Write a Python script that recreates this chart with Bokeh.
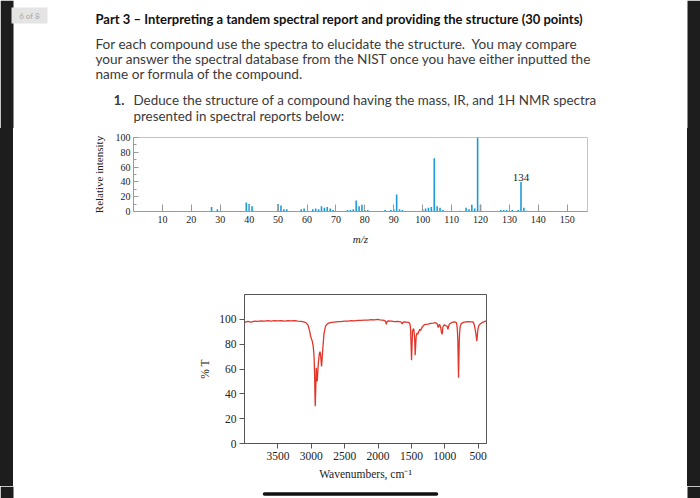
from bokeh.plotting import figure
from bokeh.layouts import row
from bokeh.models import Range1d, FixedTicker, Spacer
from bokeh.core.properties import value
from bokeh.embed import file_html
from bokeh.resources import INLINE

# ---------------- data ----------------
header_title = ["Part 3 \u2013 Interpreting a tandem spectral report and providing the structure (30 points)"]
body_lines = [
    "For each compound use the spectra to elucidate the structure.\u00a0 You may compare",
    "your answer the spectral database from the NIST once you have either inputted the",
    "name or formula of the compound.",
]
item_num = ["1."]
item_lines = [
    "Deduce the structure of a compound having the mass, IR, and 1H NMR spectra",
    "presented in spectral reports below:",
]
page_badge = ["6 of 8"]

ms_mz = [27, 29, 39, 40, 41, 50, 51, 52, 53, 58, 59, 62, 63, 64, 65, 66, 67, 68, 69,
         74, 75, 76, 77, 78, 79, 80, 81, 87, 89, 90, 91, 92, 93,
         100, 101, 102, 103, 104, 105, 106, 107, 113, 115, 116, 117, 118, 119, 120,
         127, 128, 129, 131, 133, 134, 135, 136]
ms_int = [6, 3, 12, 10, 7, 10, 8, 3, 3, 3, 4, 3, 4, 3, 7, 5, 6, 4, 2,
          2, 2, 3, 15, 7, 9, 2, 2, 2, 2, 3, 23, 3, 2,
          3, 4, 5, 6, 72, 7, 5, 2, 1, 5, 3, 9, 4, 100, 9,
          2, 2, 2, 2, 2, 40, 5, 1]
ms_xticks = [10, 20, 30, 40, 50, 60, 70, 80, 90, 100, 110, 120, 130, 140, 150]
ms_yticks = [0, 20, 40, 60, 80, 100]
ms_label_mz = [134]
ms_label_text = ["134"]

ir_wn = [4000, 3950, 3900, 3850, 3800, 3750, 3700, 3650, 3600, 3550, 3500, 3450, 3400, 3350,
         3300, 3250, 3200, 3150, 3100, 3070, 3050, 3036, 3020, 3010, 2995, 2985, 2970, 2958,
         2950, 2945, 2940, 2932, 2925, 2918, 2910, 2902, 2895, 2880, 2870, 2862, 2855, 2846,
         2838, 2830, 2810, 2786, 2760, 2736, 2700, 2650, 2600, 2560, 2500, 2450, 2400, 2350,
         2300, 2262, 2200, 2150, 2100, 2050, 2012, 1970, 1930, 1897, 1885, 1877, 1868, 1852,
         1800, 1750, 1700, 1663, 1650, 1638, 1625, 1613, 1580, 1538, 1520, 1513, 1505, 1498,
         1491, 1483, 1470, 1463, 1452, 1443, 1435, 1428, 1415, 1403, 1392, 1383, 1375, 1363,
         1350, 1338, 1310, 1288, 1250, 1213, 1175, 1138, 1115, 1098, 1088, 1078, 1060, 1048,
         1038, 1028, 1010, 988, 965, 953, 943, 933, 900, 863, 840, 823, 812, 804, 798, 794,
         789, 784, 779, 770, 754, 720, 689, 650, 620, 589, 570, 554, 540, 530, 520, 512,
         504, 490, 464, 440, 414, 390, 375]
ir_t = [97.5, 98.3, 97.8, 98.6, 98.4, 98.8, 98.5, 98.9, 98.6, 99.0, 98.7, 98.9, 98.6, 98.9,
        98.7, 98.9, 98.5, 98.3, 97.8, 96.8, 95.5, 93.0, 89.5, 86.5, 84.0, 82.5, 78.0, 70.0,
        56.0, 40.0, 30.0, 45.0, 61.0, 55.0, 50.0, 58.0, 64.0, 72.0, 74.0, 72.0, 68.0, 62.0,
        67.0, 74.5, 88.0, 94.5, 96.3, 97.0, 97.5, 97.8, 98.1, 98.2, 98.6, 98.5, 98.9, 98.8,
        99.1, 99.2, 99.4, 99.3, 99.7, 99.6, 100.0, 99.6, 99.4, 99.0, 98.0, 96.0, 97.8, 98.7,
        98.5, 98.2, 98.3, 98.0, 97.5, 96.3, 97.5, 98.0, 97.8, 97.5, 96.0, 93.0, 80.0, 67.0,
        78.0, 90.6, 92.5, 92.0, 85.0, 71.0, 80.0, 86.6, 89.0, 88.0, 90.0, 90.6, 92.0, 91.0,
        92.5, 93.8, 95.5, 96.0, 96.2, 96.8, 97.0, 97.3, 96.5, 93.3, 95.0, 96.0, 93.0, 89.0,
        88.0, 93.8, 95.5, 95.0, 94.5, 92.0, 94.0, 96.0, 97.3, 98.0, 97.8, 97.0, 92.0, 82.6,
        65.0, 53.0, 66.0, 80.0, 88.0, 94.0, 96.5, 97.5, 98.0, 98.2, 98.0, 98.0, 97.5, 94.6,
        90.5, 87.0, 82.5, 87.0, 92.0, 95.0, 96.5, 97.5, 98.0, 98.5, 98.6]
ir_xticks = [3500, 3000, 2500, 2000, 1500, 1000, 500]
ir_yticks = [0, 20, 40, 60, 80, 100]

# ---------------- styles ----------------
DARK = "#1d1d1d"
SERIF = "Liberation Serif"
SANS = "Lato"


def blank(width, height, x0, x1, y0, y1, bg="white"):
    p = figure(width=width, height=height, x_range=Range1d(x0, x1), y_range=Range1d(y1, y0),
               output_backend="svg", toolbar_location=None, min_border=0,
               x_axis_location=None, y_axis_location=None,
               background_fill_color=bg, border_fill_color=bg, outline_line_color=None)
    p.grid.visible = False
    return p


def strip(height):
    return Spacer(width=13, height=height, margin=0, styles={"background-color": DARK})


# ---- band 1: header (y 0-128) ----
hdr = blank(700, 128, 0, 700, 0, 128)
hdr.quad(left=[0, 687], right=[13, 700], top=[0, 0], bottom=[128, 128],
         fill_color=DARK, line_color=None)
hdr.quad(left=[11], right=[47], top=[7], bottom=[23], fill_color="#e4e4e4", line_color=None)
hdr.text(x=[29], y=[15.5], text=page_badge, text_font=value(SANS), text_font_size="8px",
         text_color="#a8a8a8", text_align="center", text_baseline="middle")
hdr.text(x=[95], y=[18.5], text=header_title, text_font=value(SANS), text_font_size="13px",
         text_font_style="bold", text_color="#111111", text_baseline="middle")
hdr.text(x=[95, 95, 95], y=[43, 58, 73], text=body_lines, text_font=value(SANS),
         text_font_size="13.6px", text_color="#3a3a3a", text_baseline="middle")
hdr.text(x=[113], y=[99.5], text=item_num, text_font=value(SANS), text_font_size="13.5px",
         text_font_style="bold", text_color="#3a3a3a", text_baseline="middle")
hdr.text(x=[133, 133], y=[99.5, 115], text=item_lines, text_font=value(SANS),
         text_font_size="13.4px", text_color="#3a3a3a", text_baseline="middle")

# ---- band 2: mass spectrum (y 128-250) ----
ms = figure(width=674, height=122, x_range=Range1d(0, 157), y_range=Range1d(0, 100),
            output_backend="svg", toolbar_location=None,
            min_border_left=120, min_border_right=100, min_border_top=9, min_border_bottom=39,
            outline_line_color="#c4c4c4", background_fill_color="white", border_fill_color="white")
ms.grid.visible = False
ms.vbar(x=ms_mz, top=ms_int, bottom=0, width=0.55, fill_color="#1c9bd8", line_color=None)
ms.text(x=ms_label_mz, y=[ms_int[ms_mz.index(m)] for m in ms_label_mz], text=ms_label_text,
        text_font=value(SERIF), text_font_size="11px", text_color="#222222",
        text_align="center", text_baseline="bottom", y_offset=-1)
ms.xaxis.ticker = FixedTicker(ticks=ms_xticks)
ms.yaxis.ticker = FixedTicker(ticks=ms_yticks, minor_ticks=[10, 30, 50, 70, 90])
for ax in (ms.xaxis[0], ms.yaxis[0]):
    ax.major_label_text_font = SERIF
    ax.major_label_text_font_size = "10px"
    ax.major_label_text_color = "#222222"
    ax.axis_line_color = "#9a9a9a"
    ax.major_tick_line_color = "#9a9a9a"
    ax.minor_tick_line_color = "#9a9a9a"
    ax.major_tick_out = 0
    ax.minor_tick_out = 0
    ax.axis_label_text_font = SERIF
    ax.axis_label_text_color = "#222222"
ms.xaxis.major_tick_in = 7
ms.xaxis.minor_tick_line_color = None
ms.yaxis.major_tick_in = 5
ms.yaxis.minor_tick_in = 3
ms.xaxis.major_label_standoff = 4
ms.yaxis.major_label_standoff = 3
ms.xaxis.axis_label = "m/z"
ms.xaxis.axis_label_text_font_style = "italic"
ms.xaxis.axis_label_text_font_size = "11px"
ms.xaxis.axis_label_standoff = 7
ms.yaxis.axis_label = "Relative intensity"
ms.yaxis.axis_label_text_font_style = "normal"
ms.yaxis.axis_label_text_font_size = "11px"
ms.yaxis.axis_label_standoff = 8

# ---- band 3: IR spectrum (y 250-486) ----
ir = figure(width=674, height=236, x_range=Range1d(4000, 375), y_range=Range1d(0, 120),
            output_backend="svg", toolbar_location=None,
            min_border_left=231, min_border_right=201, min_border_top=44, min_border_bottom=43,
            outline_line_color="#555555", background_fill_color="white", border_fill_color="white")
ir.grid.visible = False
ir.line(ir_wn, ir_t, line_color="#e2352b", line_width=1.3)
ir.xaxis.ticker = FixedTicker(ticks=ir_xticks)
ir.yaxis.ticker = FixedTicker(ticks=ir_yticks)
for ax in (ir.xaxis[0], ir.yaxis[0]):
    ax.major_label_text_font = SERIF
    ax.major_label_text_font_size = "11.5px"
    ax.major_label_text_color = "#222222"
    ax.axis_line_color = "#555555"
    ax.major_tick_line_color = "#555555"
    ax.minor_tick_line_color = None
    ax.major_tick_in = 0
    ax.major_tick_out = 5
    ax.major_label_standoff = 3
    ax.axis_label_text_font = SERIF
    ax.axis_label_text_font_size = "11.5px"
    ax.axis_label_text_font_style = "normal"
    ax.axis_label_text_color = "#222222"
    ax.axis_label_standoff = 5
ir.xaxis.axis_label = "Wavenumbers, cm\u207b\u00b9"
ir.yaxis.axis_label = "% T"

# ---- band 4: bottom home bar (y 486-498) ----
bar = blank(700, 12, 0, 700, 486, 498)
bar.quad(left=[0, 687], right=[13, 700], top=[486, 486], bottom=[498, 498],
         fill_color=DARK, line_color=None)
bar.segment(x0=[264], y0=[493.5], x1=[436], y1=[493.5], line_color="#111111",
            line_width=3.5, line_cap="round")

band_ms = row(strip(122), ms, strip(122))
band_ir = row(strip(236), ir, strip(236))

open("out.html", "w").write(file_html([hdr, band_ms, band_ir, bar], INLINE))
